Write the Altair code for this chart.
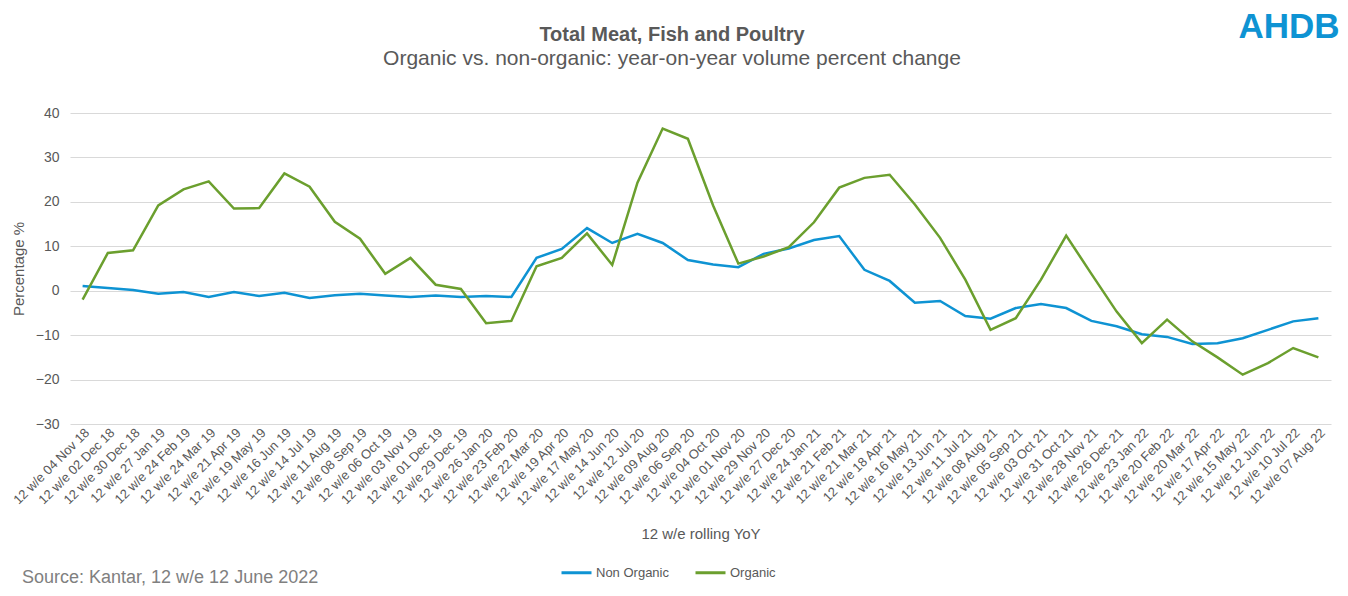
import altair as alt
import pandas as pd

categories = [
    "12 w/e 04 Nov 18", "12 w/e 02 Dec 18", "12 w/e 30 Dec 18", "12 w/e 27 Jan 19",
    "12 w/e 24 Feb 19", "12 w/e 24 Mar 19", "12 w/e 21 Apr 19", "12 w/e 19 May 19",
    "12 w/e 16 Jun 19", "12 w/e 14 Jul 19", "12 w/e 11 Aug 19", "12 w/e 08 Sep 19",
    "12 w/e 06 Oct 19", "12 w/e 03 Nov 19", "12 w/e 01 Dec 19", "12 w/e 29 Dec 19",
    "12 w/e 26 Jan 20", "12 w/e 23 Feb 20", "12 w/e 22 Mar 20", "12 w/e 19 Apr 20",
    "12 w/e 17 May 20", "12 w/e 14 Jun 20", "12 w/e 12 Jul 20", "12 w/e 09 Aug 20",
    "12 w/e 06 Sep 20", "12 w/e 04 Oct 20", "12 w/e 01 Nov 20", "12 w/e 29 Nov 20",
    "12 w/e 27 Dec 20", "12 w/e 24 Jan 21", "12 w/e 21 Feb 21", "12 w/e 21 Mar 21",
    "12 w/e 18 Apr 21", "12 w/e 16 May 21", "12 w/e 13 Jun 21", "12 w/e 11 Jul 21",
    "12 w/e 08 Aug 21", "12 w/e 05 Sep 21", "12 w/e 03 Oct 21", "12 w/e 31 Oct 21",
    "12 w/e 28 Nov 21", "12 w/e 26 Dec 21", "12 w/e 23 Jan 22", "12 w/e 20 Feb 22",
    "12 w/e 20 Mar 22", "12 w/e 17 Apr 22", "12 w/e 15 May 22", "12 w/e 12 Jun 22",
    "12 w/e 10 Jul 22", "12 w/e 07 Aug 22",
]

non_organic = [
    1.05, 0.6, 0.15, -0.7, -0.3, -1.4, -0.3, -1.2, -0.45, -1.65,
    -1.0, -0.7, -1.1, -1.4, -1.05, -1.4, -1.2, -1.4, 7.4, 9.4,
    14.1, 10.75, 12.8, 10.75, 6.9, 5.9, 5.3, 8.3, 9.5, 11.4,
    12.3, 4.7, 2.2, -2.7, -2.3, -5.7, -6.3, -3.9, -3.0, -3.9,
    -6.8, -8.0, -9.8, -10.4, -12.0, -11.8, -10.7, -8.8, -6.9, -6.2,
]

organic = [
    -2.0, 8.5, 9.1, 19.2, 22.8, 24.6, 18.5, 18.6, 26.4, 23.4,
    15.5, 11.7, 3.8, 7.4, 1.35, 0.4, -7.3, -6.8, 5.5, 7.4,
    12.9, 5.8, 24.3, 36.5, 34.2, 19.2, 6.1, 7.7, 9.8, 15.4,
    23.2, 25.4, 26.1, 19.4, 11.9, 2.5, -8.8, -6.2, 2.5, 12.4,
    3.8, -4.7, -11.8, -6.5, -11.4, -15.0, -18.9, -16.3, -12.9, -15.0,
]

series_names = ["Non Organic", "Organic"]
series_colors = ["#0E93D3", "#6B9F2E"]

title_text = "Total Meat, Fish and Poultry"
subtitle_text = "Organic vs. non-organic: year-on-year volume percent change"
source_text = "Source: Kantar, 12 w/e 12 June 2022"
logo_text = "AHDB"

rows = []
for c, a, b in zip(categories, non_organic, organic):
    rows.append({"week": c, "series": series_names[0], "value": a})
    rows.append({"week": c, "series": series_names[1], "value": b})
df = pd.DataFrame(rows)

FONT = "Liberation Sans"
GRAY = "#595959"

lines = alt.Chart(df).mark_line(strokeWidth=2.5).encode(
    x=alt.X(
        "week:N",
        sort=categories,
        scale=alt.Scale(paddingInner=0, paddingOuter=0.5),
        axis=alt.Axis(
            title="12 w/e rolling YoY",
            labelAngle=-45,
            labelFontSize=13,
            labelColor=GRAY,
            labelFont=FONT,
            labelPadding=2,
            labelOverlap=False,
            ticks=False,
            domain=False,
            grid=False,
            titleFont=FONT,
            titleFontSize=15,
            titleFontWeight="normal",
            titleColor=GRAY,
            titlePadding=19,
        ),
    ),
    y=alt.Y(
        "value:Q",
        scale=alt.Scale(domain=[-30, 40], nice=False, zero=False),
        axis=alt.Axis(
            title="Percentage %",
            values=[-30, -20, -10, 0, 10, 20, 30, 40],
            labelFontSize=14,
            labelColor=GRAY,
            labelFont=FONT,
            labelPadding=11,
            ticks=False,
            domain=False,
            gridColor="#D9D9D9",
            gridWidth=1,
            titleFont=FONT,
            titleFontSize=15,
            titleFontWeight="normal",
            titleColor=GRAY,
            titlePadding=9,
        ),
    ),
    color=alt.Color(
        "series:N",
        scale=alt.Scale(domain=series_names, range=series_colors),
        legend=alt.Legend(
            title=None,
            orient="none",
            legendX=490,
            legendY=443,
            direction="horizontal",
            symbolType="stroke",
            symbolSize=900,
            symbolStrokeWidth=3,
            labelFont=FONT,
            labelFontSize=13,
            labelColor=GRAY,
            labelOffset=3,
            columnPadding=20,
        ),
    ),
)


def text_layer(txt, x, y, size, color, weight="normal", align="center"):
    return alt.Chart(pd.DataFrame({"t": [txt]})).mark_text(
        align=align, baseline="middle", font=FONT, fontSize=size,
        fontWeight=weight, color=color,
    ).encode(x=alt.value(x), y=alt.value(y), text="t:N")


title = text_layer(title_text, 602, -78, 20, GRAY, weight="bold")
subtitle = text_layer(subtitle_text, 602, -54, 21, GRAY)
source = text_layer(source_text, -48, 465, 18, "#808080", align="left")
logo = text_layer(logo_text, 1219, -86, 35, "#0E93D3", weight="bold")

chart = alt.layer(lines, title, subtitle, source, logo).properties(
    width=1261,
    height=311,
    padding={"left": 70, "top": 113, "right": 17, "bottom": 172},
    autosize=alt.AutoSizeParams(type="none"),
    background="white",
).configure_view(strokeWidth=0, stroke="transparent")

chart.save("out.html", embed_options={"renderer": "svg", "actions": False})
